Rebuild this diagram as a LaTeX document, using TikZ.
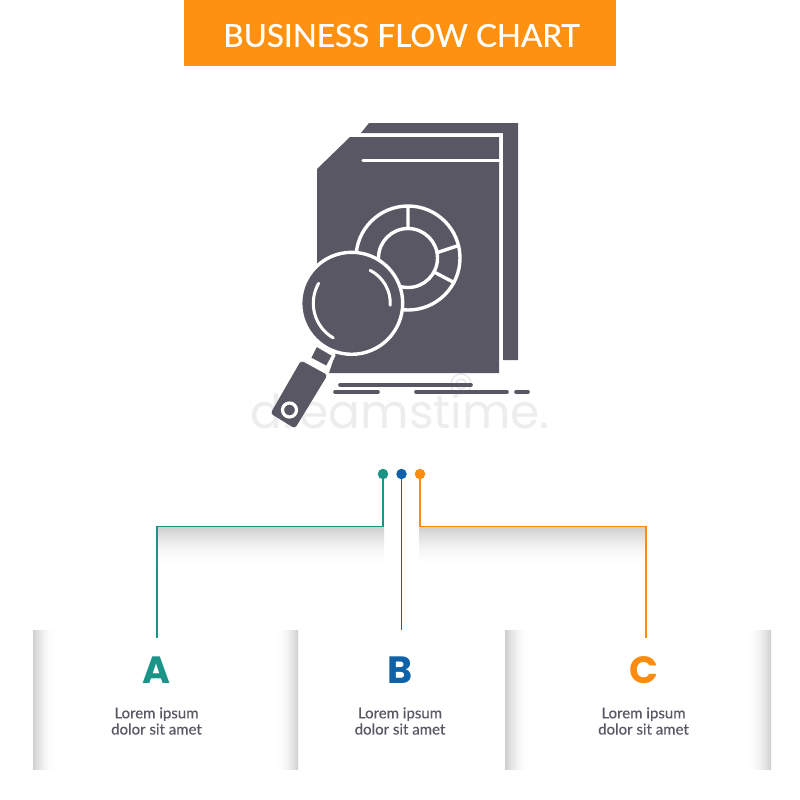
\documentclass[tikz,border=0pt]{standalone}
\usepackage{fontspec}
\setmainfont{Lato}
\newfontfamily\headfont{Poppins}
\newfontfamily\titlefont[FakeBold=0.6]{Lato}
\newfontfamily\capfont[FakeBold=0.25]{Lato}
\usetikzlibrary{calc}
\definecolor{ink}{HTML}{5A5764}
\definecolor{bannerc}{HTML}{FF9110}
\definecolor{tealc}{HTML}{1B9488}
\definecolor{bluec}{HTML}{0F62A8}
\definecolor{orangec}{HTML}{FB8C10}
\definecolor{shadec}{HTML}{CFCFCF}
\pgfdeclarehorizontalshading{fadeshade}{100bp}{color(0bp)=(shadec);color(25bp)=(shadec);color(37bp)=(shadec!60!white);color(50bp)=(shadec!25!white);color(62bp)=(shadec!6!white);color(75bp)=(white);color(100bp)=(white)}
\tikzset{
  x=1pt,y=-1pt,
  slit/.style={draw=white,line width=3.4pt,line cap=round},
  dotnode/.style={circle,inner sep=0pt,minimum size=10.5pt},
  wire/.style={line width=1.25pt},
  letter/.style={font=\headfont\fontsize{38}{38}\selectfont\bfseries,inner sep=0pt},
  caption/.style={font=\capfont\fontsize{15}{16.2}\selectfont,text=ink,align=center,inner sep=0pt},
  bar/.style={draw=ink,line width=3.6pt,line cap=round},
  fadedown/.style={shading=fadeshade,shading angle=270},
  faderight/.style={shading=fadeshade},
  fadeleft/.style={shading=fadeshade,shading angle=180},
}
\begin{document}
\begin{tikzpicture}
\useasboundingbox (0,0) rectangle (800,800);
\fill[white] (0,0) rectangle (800,800);
% banner
\node[fill=bannerc,minimum width=432pt,minimum height=66pt,inner sep=0pt] (banner) at (400,33) {};
\node[text=white,inner sep=0pt,font=\titlefont\fontsize{31.5}{31.5}\selectfont] (title) at (401.5,35.5) {BUSINESS FLOW CHART};
% watermark
\node[text=black!7,font=\headfont\fontsize{47}{47}\selectfont,inner sep=0pt] (mark) at (400,411) {dreamstime.};
\draw[black!9,line width=1.4pt] (461,384) circle (10) (461,384) circle (5);
% back page
\fill[ink] (369,123) -- (518,123) -- (518,360) -- (503,360) -- (503,133) -- (361,133) -- cycle;
% front page
\fill[ink] (350,137) -- (499,137) -- (499,373) -- (329,373) -- (340,340) -- (317,300) -- (317,169) -- cycle;
\draw[draw=white,line width=3.4pt] (363,160.5) -- (501,160.5);
\fill[white] (363,160.5) circle (1.7);
% chart
\draw[draw=white,line width=3.4pt] (408,258) circle (52) (408,258) circle (29.5);
\draw[draw=white,line width=3.4pt] (408,206) -- (408,229) (436,253) -- (457,246) (434,272) -- (453,282);
% handle
\draw[fill=ink,draw=white,line width=3.4pt,line join=round]
  (316,344.5) -- (334,355) -- (327,368) -- (309,358.5) -- cycle;
\draw[fill=ink,draw=none,rounded corners=3pt]
  (301,360.5) -- (327.5,375) -- (295,428.5) -- (270.5,413.5) -- cycle;
\draw[white,line width=3.2pt] (289.5,410) circle (7);
% lens
\draw[fill=ink,draw=white,line width=3.4pt] (351.7,303.3) circle (51);
\draw[slit,line width=3pt] ($(353.3,303.3)+(210:40)$) arc[start angle=210,end angle=120,radius=40];
\draw[slit,line width=3pt] ($(353.3,303.3)+(-63:37)$) arc[start angle=-63,end angle=3,radius=37];
% lines under the page
\draw[bar] (340,385) -- (471,385);
\draw[bar] (335,392) -- (378,392);
\draw[bar] (416,392) -- (507,392);
\draw[bar] (516,392) -- (528,392);
% shadows
\shade[fadedown] (157,527) rectangle (384,567);
\shade[fadedown] (419.5,527) rectangle (646,567);
\shade[faderight] (33,630) rectangle (55,769);
\shade[fadeleft] (276,630) rectangle (298,769);
\shade[faderight] (505,630) rectangle (529,769);
\shade[fadeleft] (747,630) rectangle (771,769);
% dots
\node[dotnode,fill=tealc] (dotA) at (383,474) {};
\node[dotnode,fill=bluec] (dotB) at (401.5,474) {};
\node[dotnode,fill=orangec] (dotC) at (420,474) {};
% free ends
\coordinate (endA) at (157,638);
\coordinate (endB) at (401.5,630);
\coordinate (endC) at (646,638);
\coordinate (bendA) at (383,526.5);
\coordinate (cornerA) at (157,526.5);
\coordinate (bendC) at (420,526.5);
\coordinate (cornerC) at (646,526.5);
% connectors
\draw[wire,draw=tealc] (dotA) -- (bendA) -- (cornerA) -- (endA);
\draw[wire,draw=bluec,line width=1.6pt] (dotB) -- (endB);
\draw[wire,draw=orangec] (dotC) -- (bendC) -- (cornerC) -- (endC);
% labels
\node[letter,text=tealc] (letterA) at (156.5,670) {A};
\node[letter,text=bluec] (letterB) at (400.5,670) {B};
\node[letter,text=orangec] (letterC) at (643.5,670) {C};
\node[caption] (textA) at (156.5,721) {Lorem ipsum\\dolor sit amet};
\node[caption] (textB) at (400,721) {Lorem ipsum\\dolor sit amet};
\node[caption] (textC) at (643.5,721) {Lorem ipsum\\dolor sit amet};
\end{tikzpicture}
\end{document}
